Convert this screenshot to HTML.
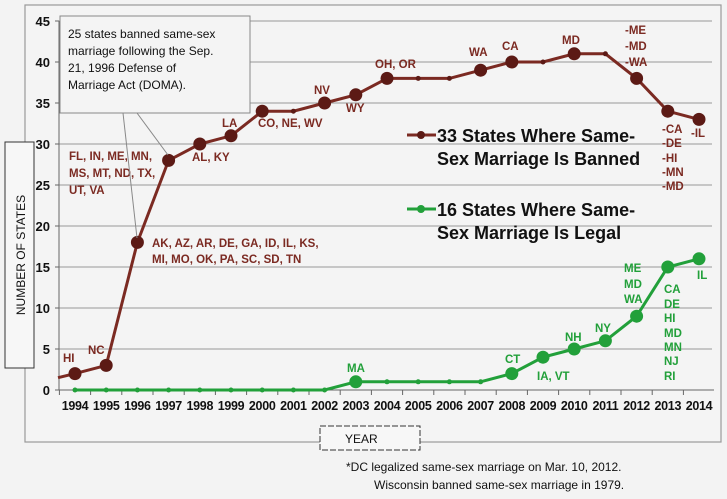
<!DOCTYPE html>
<html><head><meta charset="utf-8"><style>
body{margin:0;background:#f3f3f3;}
svg{display:block;font-family:"Liberation Sans",Arial,sans-serif;}
.b{fill:#7b2a22;font-weight:bold;font-size:11.5px;}
.g{fill:#22a03a;font-weight:bold;font-size:11.5px;}
</style></head><body>
<svg id="c" width="727" height="499">
<rect x="0" y="0" width="727" height="499" fill="#f3f3f3"/>
<rect x="25" y="5" width="696" height="437" fill="#f4f4f4" stroke="#999" stroke-width="1.2"/>
<g id="grid"></g>
<g id="axes"></g>
<g id="series"></g>
<g id="labels"></g>
<rect x="60" y="16" width="190" height="97" fill="#f4f4f4" stroke="#888"/>
<text x="68" y="38" font-size="12" fill="#111"><tspan x="68">25 states banned same-sex</tspan><tspan x="68" dy="17">marriage following the Sep.</tspan><tspan x="68" dy="17">21, 1996 Defense of</tspan><tspan x="68" dy="17">Marriage Act (DOMA).</tspan></text>
<line x1="123" y1="113" x2="137" y2="238" stroke="#888"/>
<line x1="137" y1="113" x2="168" y2="155" stroke="#888"/>
<rect x="5" y="142" width="29" height="226" fill="#f7f7f7" stroke="#333"/>
<text transform="translate(25,255) rotate(-90)" text-anchor="middle" font-size="12" fill="#111">NUMBER OF STATES</text>
<rect x="320" y="426" width="100" height="24" fill="#f7f7f7" stroke="#333" stroke-dasharray="6,2"/>
<text x="345" y="443" font-size="12" fill="#111">YEAR</text>
<text x="346" y="471" font-size="12" fill="#111">*DC legalized same-sex marriage on Mar. 10, 2012.</text>
<text x="374" y="489" font-size="12" fill="#111">Wisconsin banned same-sex marriage in 1979.</text>
<g>
<line x1="407" y1="135" x2="436" y2="135" stroke="#7b2a22" stroke-width="3"/><circle cx="421" cy="135" r="4" fill="#5c1a15"/>
<text x="437" y="142" font-size="18" font-weight="bold" fill="#111"><tspan x="437">33 States Where Same-</tspan><tspan x="437" dy="23">Sex Marriage Is Banned</tspan></text></g>
<g>
<line x1="407" y1="209" x2="436" y2="209" stroke="#22a03a" stroke-width="3"/><circle cx="421" cy="209" r="4" fill="#22a03a"/>
<text x="437" y="216" font-size="18" font-weight="bold" fill="#111"><tspan x="437">16 States Where Same-</tspan><tspan x="437" dy="23">Sex Marriage Is Legal</tspan></text></g>
</svg>
<script>
const years=[1994,1995,1996,1997,1998,1999,2000,2001,2002,2003,2004,2005,2006,2007,2008,2009,2010,2011,2012,2013,2014];
const banned=[2,3,18,28,30,31,34,34,35,36,38,38,38,39,40,40,41,41,38,34,33];
const legal=[0,0,0,0,0,0,0,0,0,1,1,1,1,1,2,4,5,6,9,15,16];
const bannedBig=[1,1,1,1,1,1,1,0,1,1,1,0,0,1,1,0,1,0,1,1,1];
const legalBig=[0,0,0,0,0,0,0,0,0,1,0,0,0,0,1,1,1,1,1,1,1];
const yTicks=[0,5,10,15,20,25,30,35,40,45];
const NS='http://www.w3.org/2000/svg';
const X=i=>75+i*31.2, Y=v=>390-v*8.2;
function mk(t,a,p){const e=document.createElementNS(NS,t);for(const k in a)e.setAttribute(k,a[k]);document.getElementById(p).appendChild(e);return e;}
yTicks.forEach(v=>{
 if(v>0){const l=mk('line',{x1:59,x2:712,y1:Y(v),y2:Y(v),stroke:'#999','stroke-width':1},'grid');
 
 }
 const t=mk('text',{x:50,y:Y(v)+5,'text-anchor':'end','font-size':13,'font-weight':'bold',fill:'#111'},'axes');t.textContent=v;
 
 
 mk('line',{x1:55,x2:59,y1:Y(v),y2:Y(v),stroke:'#666'},'axes');
});
mk('line',{x1:59,x2:59,y1:Y(45),y2:Y(0),stroke:'#666'},'axes');
mk('line',{x1:59,x2:714,y1:Y(0),y2:Y(0),stroke:'#666'},'axes');
years.forEach((y,i)=>{
 mk('line',{x1:X(i)-15.6,x2:X(i)-15.6,y1:390,y2:395,stroke:'#666'},'axes');
 const t=mk('text',{x:X(i),y:410,'text-anchor':'middle','font-size':12.5,'font-weight':'bold',fill:'#111','letter-spacing':'-0.3'},'axes');t.textContent=y;
 
 
});
function series(vals,big,col,dot,name,ext){
 let d=ext?`M58,${Y(1.5)} `:'M'; d+=vals.map((v,i)=>(i||ext?'L':'')+X(i)+','+Y(v)).join(' ');
 const p=mk('path',{d:d,fill:'none',stroke:col,'stroke-width':3},'series');
 
 
 vals.forEach((v,i)=>{const c=mk('circle',{cx:X(i),cy:Y(v),r:big[i]?6.5:2.5,fill:dot},'series');
 
 });
}
series(banned,bannedBig,'#7b2a22','#5c1a15','banned',true);
series(legal,legalBig,'#22a03a','#22a03a','legal',false);
const bl=[[63,362,'HI'],[88,354,'NC'],[222,127,'LA'],[258,127,'CO, NE, WV'],[314,94,'NV'],[346,112,'WY'],[375,68,'OH, OR'],[469,56,'WA'],[502,50,'CA'],[562,44,'MD'],[192,161,'AL, KY'],[625,34,'-ME'],[625,50,'-MD'],[625,66,'-WA'],[662,133,'-CA'],[662,147,'-DE'],[662,162,'-HI'],[662,176,'-MN'],[662,190,'-MD'],[691,137,'-IL']];
bl.forEach(a=>{const t=mk('text',{x:a[0],y:a[1],class:'b'},'labels');t.textContent=a[2];
 
 });
const ml=['FL, IN, ME, MN,','MS, MT, ND, TX,','UT, VA'];
ml.forEach((s,i)=>{const t=mk('text',{x:69,y:160+i*17,class:'b'},'labels');t.textContent=s;
 
 });
['AK, AZ, AR, DE, GA, ID, IL, KS,','MI, MO, OK, PA, SC, SD, TN'].forEach((s,i)=>{const t=mk('text',{x:152,y:247+i*16,class:'b'},'labels');t.textContent=s;
 
 });
const gl=[[347,372,'MA'],[505,363,'CT'],[537,380,'IA, VT'],[565,341,'NH'],[595,332,'NY'],[624,272,'ME'],[624,288,'MD'],[624,303,'WA'],[664,293,'CA'],[664,308,'DE'],[664,322,'HI'],[664,337,'MD'],[664,351,'MN'],[664,365,'NJ'],[664,380,'RI'],[697,279,'IL']];
gl.forEach(a=>{const t=mk('text',{x:a[0],y:a[1],class:'g'},'labels');t.textContent=a[2];
 
 });
</script>
</body></html>
